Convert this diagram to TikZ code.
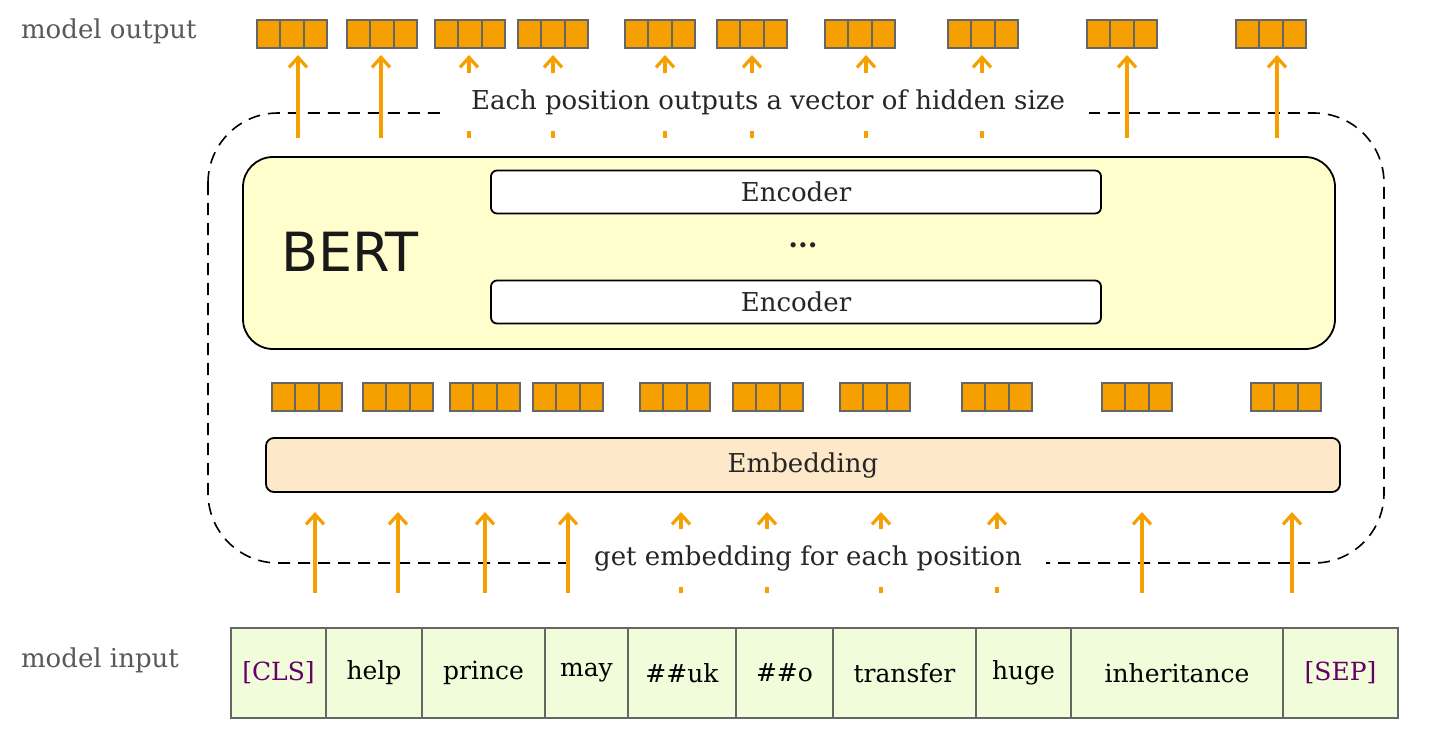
\documentclass[tikz,border=0pt]{standalone}
\usepackage{fontspec}
\setmainfont{DejaVu Serif}
\newfontfamily\bertfont{DejaVu Sans}
\usetikzlibrary{arrows.meta}
\definecolor{org}{RGB}{245,160,0}
\begin{document}
\begin{tikzpicture}[x=0.5pt,y=-0.5pt,
  cell/.style={draw=black!60,line width=0.8pt,fill=org,minimum width=11.5pt,minimum height=14pt,inner sep=0},
  arr/.style={draw=org,line width=1.6pt,-{Straight Barb[length=5pt,width=9pt]}},
  lbl/.style={font=\fontsize{13}{15}\selectfont,text=black!85},
  side/.style={font=\fontsize{13}{15}\selectfont,text=black!65,anchor=west},
  tok/.style={draw=black!60,line width=0.8pt,fill={rgb,255:red,240;green,252;blue,218},minimum height=45pt,inner sep=0,font=\fontsize{12.5}{15}\selectfont}]
\useasboundingbox (0,0) rectangle (1438,740);
% dashed container
\draw[line width=0.8pt,dash pattern=on 6pt off 4pt,rounded corners=35pt] (208,113) rectangle (1384,563);
% top arrows
\foreach \x in {298,381,469,553,665,752,866,982,1127,1277}
  \draw[arr] (\x,138) -- (\x,55);
% bottom arrows
\foreach \x in {315,398,485,568,681,767,881,997,1142,1292}
  \draw[arr] (\x,593) -- (\x,512);
\node[lbl,fill=white,inner xsep=12pt,inner ysep=8pt] (toptxt) at (768,102) {Each position outputs a vector of hidden size};
\node[lbl,fill=white,inner xsep=12pt,inner ysep=8pt] (bottxt) at (808,558) {get embedding for each position};
% BERT box
\draw[line width=0.9pt,rounded corners=15pt,fill={rgb,255:red,255;green,254;blue,204}] (243,157) rectangle (1335,349);
\node[font=\bertfont\fontsize{27}{30}\selectfont,text=black!90] (bert) at (350,252) {BERT};
\node[draw,line width=0.9pt,rounded corners=3pt,fill=white,minimum width=305pt,minimum height=21.5pt,lbl] (enc1) at (796,192) {Encoder};
\node[draw,line width=0.9pt,rounded corners=3pt,fill=white,minimum width=305pt,minimum height=21.5pt,lbl] (enc2) at (796,302) {Encoder};
\node[lbl,font=\fontsize{14}{15}\selectfont\bfseries] (dots) at (803,245) {...};
% Embedding
\node[draw,line width=0.9pt,rounded corners=4pt,fill={rgb,255:red,253;green,233;blue,201},minimum width=537pt,minimum height=27pt,lbl] (emb) at (803,465) {Embedding};
% vectors
\foreach \x [count=\i] in {292,382,470,553,660,752,860,983,1122,1271}{
  \foreach \k in {-1,0,1}
    \node[cell] (o\i\k) at (\x+\k*23.5,34) {};
}
\foreach \x [count=\i] in {307,398,485,568,675,768,875,997,1137,1286}{
  \foreach \k in {-1,0,1}
    \node[cell] (m\i\k) at (\x+\k*23.5,397) {};
}
% tokens
\foreach \a/\b/\t/\c [count=\i] in {231/326/{[CLS]}/violet!80!black,326/422/help/black,422/545/prince/black,545/628/may/black,628/736/\#\#uk/black,736/833/\#\#o/black,833/976/transfer/black,976/1071/huge/black,1071/1283/inheritance/black,1283/1398/{[SEP]}/violet!80!black}
  \node[tok,minimum width={(\b-\a)*0.5pt},text=\c] (t\i) at ({(\a+\b)/2},673) {\t};
\node[side] (mo) at (14,31) {model output};
\node[side] (mi) at (14,660) {model input};
\end{tikzpicture}
\end{document}
